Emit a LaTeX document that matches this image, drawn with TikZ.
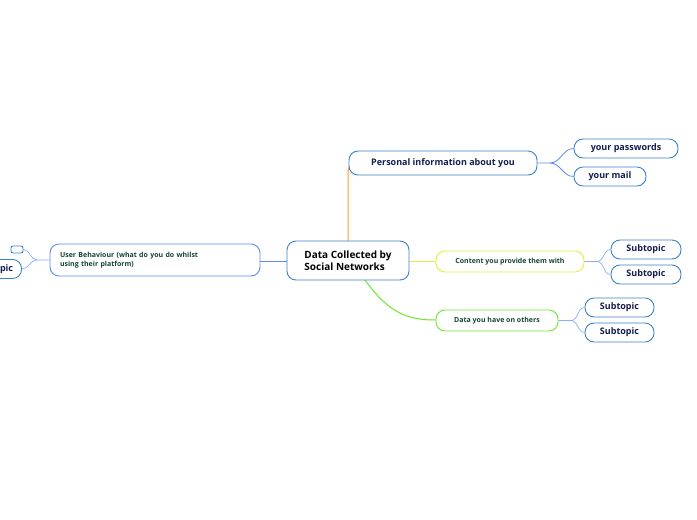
\documentclass[tikz,border=0pt]{standalone}
\usepackage{fontspec}
\setmainfont{Open Sans}
\begin{document}
\begin{tikzpicture}[x=1pt,y=-1pt,
  box/.style={draw=#1,line width=0.9pt,rounded corners=9pt,fill=white,inner sep=0pt,font=\bfseries},
  t/.style={text=black!85!blue}]
\useasboundingbox (0,0) rectangle (697,520);
\definecolor{bl}{RGB}{60,130,200}
\definecolor{lb}{RGB}{90,140,240}
\definecolor{or}{RGB}{250,160,30}
\definecolor{yl}{RGB}{225,240,60}
\definecolor{gr}{RGB}{110,230,50}
\definecolor{dg}{RGB}{20,70,50}
\definecolor{nv}{RGB}{20,30,80}
% edges first
\coordinate (cc) at (348,260);
\draw[or,line width=1pt] (348,241) -- (348,175) to[out=90,in=180] (354,163);
\draw[yl,line width=1pt] (409,261) -- (436,261);
\draw[gr,line width=1pt] (365,280) .. controls (390,315) and (410,320) .. (436,320);
\draw[lb,line width=1pt] (287,261) -- (260,261);
% main nodes
\node[box=bl,minimum width=122pt,minimum height=39pt,align=left,font=\bfseries\fontsize{10}{12}\selectfont,text=black] (c) at (348,260.5) {Data Collected by\\Social Networks};
\node[box=bl,minimum width=188pt,minimum height=24pt,font=\bfseries\fontsize{9}{11}\selectfont,text=nv] (p) at (443,163) {Personal information about you};
\node[box=yl,minimum width=148pt,minimum height=21pt,font=\bfseries\fontsize{7}{9}\selectfont,text=dg] (ct) at (510,261.5) {Content you provide them with};
\node[box=gr,minimum width=122pt,minimum height=21pt,font=\bfseries\fontsize{7}{9}\selectfont,text=dg] (d) at (497,320.5) {Data you have on others};
\node[box=lb,minimum width=210pt,minimum height=32pt,font=\bfseries\fontsize{7}{9.5}\selectfont,text=dg,align=left,text width=190pt] (u) at (155,260) {User Behaviour (what do you do whilst\\using their platform)};
% subnodes
\tikzset{sub/.style={box=bl,minimum height=19pt,font=\bfseries\fontsize{9}{11}\selectfont,text=nv}}
\node[sub,minimum width=104pt] (p1) at (626,148.5) {your passwords};
\node[sub,minimum width=72pt] (p2) at (610,176.5) {your mail};
\node[sub,minimum width=70pt] (s1) at (646,249.5) {Subtopic};
\node[sub,minimum width=70pt] (s2) at (646,274.5) {Subtopic};
\node[sub,minimum width=69pt] (s3) at (619.5,307.5) {Subtopic};
\node[sub,minimum width=69pt] (s4) at (619.5,332.5) {Subtopic};
\node[draw=bl,line width=0.9pt,rounded corners=2pt,minimum width=12pt,minimum height=7pt,inner sep=0pt] (l1) at (17,249.5) {};
\node[sub,minimum width=44pt,anchor=east] (l2) at (22,269) {\hspace*{14pt}pic};
% sub connectors
\draw[lb,line width=0.8pt] (p.east) -- (550,163) to[out=0,in=180] (p1.west);
\draw[lb,line width=0.8pt] (550,163) to[out=0,in=180] (p2.west);
\draw[lb!70,line width=0.7pt] (ct.east) -- (597,261.5) to[out=0,in=180] (s1.west);
\draw[lb!70,line width=0.7pt] (597,261.5) to[out=0,in=180] (s2.west);
\draw[lb!70,line width=0.7pt] (d.east) -- (571,320.5) to[out=0,in=180] (s3.west);
\draw[lb!70,line width=0.7pt] (571,320.5) to[out=0,in=180] (s4.west);
\draw[lb!70,line width=0.7pt] (u.west) -- (37,260) to[out=180,in=0] (l1.east);
\draw[lb!70,line width=0.7pt] (37,260) to[out=180,in=0] (l2.east);
\end{tikzpicture}
\end{document}
